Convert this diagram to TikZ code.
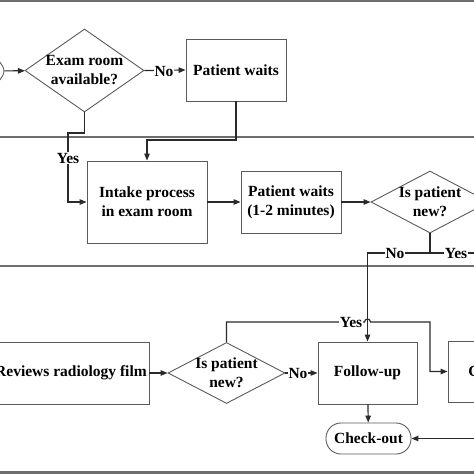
\documentclass[tikz,border=0pt]{standalone}
\usepackage{fontspec}
\setmainfont{Liberation Serif}
\usetikzlibrary{shapes.geometric,arrows.meta}
\definecolor{boxgray}{HTML}{5A5A5A}
\definecolor{linecol}{HTML}{2A2A2A}
\definecolor{lanegray}{HTML}{6E6E6E}
\begin{document}
\begin{tikzpicture}[x=1pt,y=-1pt,
  txt/.style={font=\fontsize{15.5}{19}\selectfont\bfseries, align=center, text=black},
  box/.style={txt, draw=boxgray, line width=0.9pt, rectangle, inner sep=0pt},
  dia/.style={txt, draw=boxgray, line width=0.9pt, diamond, shape aspect=1.6, inner sep=-10pt},
  term/.style={txt, draw=boxgray, line width=0.9pt, rectangle, rounded corners=14pt, inner sep=0pt},
  conn/.style={draw=linecol, line width=1.2pt},
  arr/.style={conn, -{Triangle[length=7pt,width=5.5pt]}},
  lbl/.style={txt, fill=white, inner sep=1pt},
  lane/.style={draw=lanegray, line width=1.3pt}]
\useasboundingbox (0,0) rectangle (474,474);
\clip (0,0) rectangle (474,474);
% lanes
\draw[lane] (0,1) -- (474,1);
\draw[lane] (0,137) -- (474,137);
\draw[lane] (0,266) -- (474,266);
\draw[lane, line width=3pt] (0,472.5) -- (474,472.5);
% nodes
\node[term, minimum width=44pt, minimum height=26pt] (start) at (-18,71) {};
\node[dia, minimum width=119pt, minimum height=83pt] (d1) at (84.5,70.5) {Exam room\\available?};
\node[box, minimum width=100pt, minimum height=62pt] (pw1) at (236,70) {Patient waits};
\node[box, minimum width=120pt, minimum height=82pt] (intake) at (147,202) {Intake process\\in exam room};
\node[box, minimum width=100pt, minimum height=62pt] (pw2) at (291,202) {Patient waits\\(1-2 minutes)};
\node[dia, minimum width=118pt, minimum height=62pt] (d2) at (430,202) {Is patient\\new?};
\node[box, minimum width=156pt, minimum height=62pt] (rev) at (71,373) {Reviews radiology film};
\node[dia, minimum width=117pt, minimum height=61pt] (d3) at (226.5,373) {Is patient\\new?};
\node[box, minimum width=99pt, minimum height=62pt] (fu) at (367.5,373) {Follow-up};
\node[box, minimum width=126pt, minimum height=61pt] (cons) at (511,371.5) {Consultation};
\node[term, minimum width=85pt, minimum height=31pt, rounded corners=15pt] (co) at (368.5,438.5) {Check-out};
% connectors
\draw[arr] (start) -- (d1);
\draw[arr] (d1.east) -- (pw1.west);
\node[lbl] (no1) at (164,71) {No};
\draw[arr] (pw1.south) -- (236,140) -- (147,140) -- (intake.north);
\draw[arr] (d1.south) -- (84.5,133) -- (68,133) -- (68,202) -- (intake.west);
\node[lbl] (yes1) at (68,158) {Yes};
\draw[arr] (intake) -- (pw2);
\draw[arr] (pw2) -- (d2);
\draw[arr] (d2.south) -- (430,253) -- (367.5,253) -- (fu.north);
\coordinate (rout) at (480,253);
\draw[conn] (430,253) -- (rout);
\node[lbl] (no2) at (395,253) {No};
\node[lbl] (yes2) at (456,253) {Yes};
\draw[arr] (rev) -- (d3);
\draw[arr] (d3.east) -- (fu.west);
\node[lbl] (no3) at (298,373) {No};
\draw[arr] (d3.north) -- (226.5,322) -- (364.5,322) arc[start angle=180, end angle=360, radius=3] -- (430,322) -- (430,371.5) -- (cons.west);
\node[lbl] (yes3) at (351,322) {Yes};
\draw[arr] (fu) -- (co);
\coordinate (rin) at (480,438.5);
\draw[arr] (rin) -- (co.east);
\end{tikzpicture}
\end{document}
